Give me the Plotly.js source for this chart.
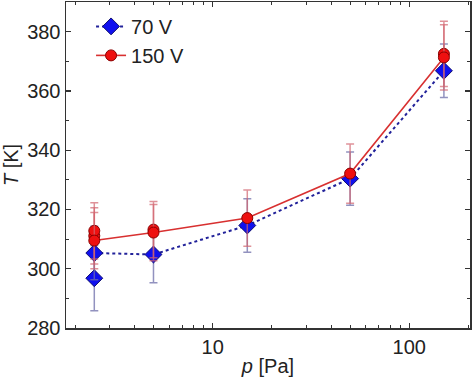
<!DOCTYPE html>
<html>
<head>
<meta charset="utf-8">
<script src="https://cdn.plot.ly/plotly-3.0.1.min.js"></script>
<style>html,body{margin:0;padding:0;background:#fff;}#chart{width:474px;height:379px;}</style>
</head>
<body>
<div id="chart"></div>
<script>
// Pressure values (Pa)
const pMain = [2.5, 5, 15, 50, 150];
// 70 V series
const t70 = [305.3, 304.8, 314.6, 330.4, 366.8];
const e70 = [9, 9.5, 9, 9, 9];
const p70Extra = [2.5];
const t70Extra = [296.8];
const e70Extra = [11];
// 150 V series
const t150 = [309.5, 312.2, 317.1, 332.1, 371.3];
const e150 = [9.5, 9.5, 9.5, 10, 11];
const p150Extra = [2.5, 2.5, 5, 150];
const t150Extra = [311.1, 312.8, 313.2, 372.5];
const e150Extra = [9.5, 9.5, 9.5, 11];

const blueMarker = {symbol: 'diamond', size: 13, color: '#1010ee', line: {color: '#101070', width: 1}};
const redMarker = {symbol: 'circle', size: 11, color: '#ee1010', line: {color: '#8a0000', width: 1}};
const blueErr = {color: 'rgba(110,110,170,0.75)', thickness: 1.5, width: 4};
const redErr = {color: 'rgba(210,100,110,0.7)', thickness: 1.5, width: 4};

const traces = [
  {x: p70Extra, y: t70Extra, mode: 'markers', type: 'scatter', showlegend: false,
   marker: blueMarker, error_y: Object.assign({type: 'data', array: e70Extra}, blueErr)},
  {x: pMain, y: t70, mode: 'lines+markers', type: 'scatter', name: '70 V',
   line: {color: '#22229a', width: 2, dash: '3px,3px'},
   marker: blueMarker, error_y: Object.assign({type: 'data', array: e70}, blueErr)},
  {x: p150Extra, y: t150Extra, mode: 'markers', type: 'scatter', showlegend: false,
   marker: redMarker, error_y: Object.assign({type: 'data', array: e150Extra}, redErr)},
  {x: pMain, y: t150, mode: 'lines+markers', type: 'scatter', name: '150 V',
   line: {color: '#d83030', width: 1.6},
   marker: redMarker, error_y: Object.assign({type: 'data', array: e150}, redErr)}
];

const FAM = 'Arial, "Liberation Sans", sans-serif';
const axisFont = {family: FAM, size: 20, color: '#222'};
const layout = {
  width: 474, height: 379,
  margin: {l: 66, r: 4, t: 2, b: 51},
  paper_bgcolor: '#fff', plot_bgcolor: '#fff',
  font: axisFont,
  showlegend: true,
  legend: {x: 0.062, y: 0.985, xanchor: 'left', yanchor: 'top', bgcolor: 'rgba(0,0,0,0)',
           font: {family: FAM, size: 20, color: '#222'},
           tracegroupgap: 0},
  xaxis: {
    type: 'log', range: [Math.log10(1.795), Math.log10(203.6)],
    showline: true, linecolor: '#333', linewidth: 1.5, mirror: 'allticks',
    ticks: 'inside', ticklen: 5, tickwidth: 1.2, tickcolor: '#333',
    dtick: 1, showgrid: false, zeroline: false,
    tickfont: axisFont,
    minor: {ticks: 'inside', ticklen: 3, tickwidth: 1, tickcolor: '#333', showgrid: false},
    title: {text: '<i>p</i> [Pa]', font: {family: FAM, size: 20, color: '#222'}, standoff: 2}
  },
  yaxis: {
    range: [280, 390],
    showline: true, linecolor: '#333', linewidth: 1.5, mirror: 'allticks',
    ticks: 'inside', ticklen: 5, tickwidth: 1.2, tickcolor: '#333',
    dtick: 20, tick0: 280, showgrid: false, zeroline: false,
    tickfont: axisFont,
    minor: {dtick: 10, ticks: 'inside', ticklen: 3, tickwidth: 1, tickcolor: '#333', showgrid: false},
    title: {text: '<i>T</i> [K]', font: {family: FAM, size: 20, color: '#222'}, standoff: 4}
  }
};

Plotly.newPlot('chart', traces, layout, {displayModeBar: false, staticPlot: true});
</script>
</body>
</html>
